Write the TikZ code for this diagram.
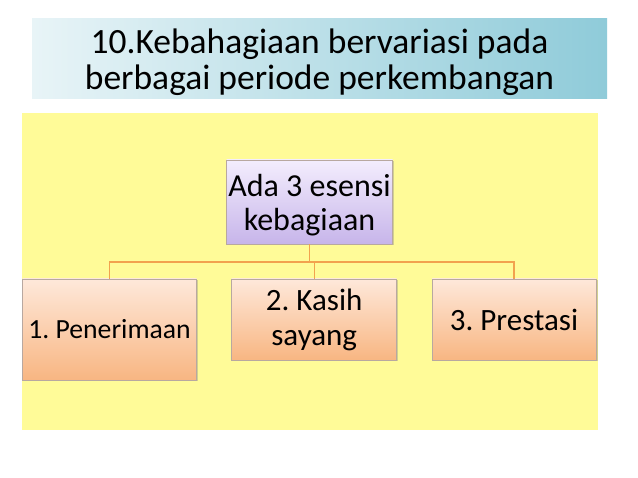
\documentclass[tikz,border=0pt]{standalone}
\usepackage{fontspec}
\setmainfont{Carlito}
\frenchspacing
\usetikzlibrary{shadows}
\definecolor{titleL}{HTML}{E8F4F7}
\definecolor{titleR}{HTML}{8FCBD9}
\definecolor{yel}{HTML}{FFFB98}
\definecolor{lavT}{HTML}{F3EDFD}
\definecolor{lavB}{HTML}{C7B5EA}
\definecolor{pchT}{HTML}{FEE8DA}
\definecolor{pchB}{HTML}{F8B682}
\definecolor{conn}{HTML}{F2A24E}
\definecolor{bord}{HTML}{B8A8A0}
\tikzset{
  topbox/.style={draw=bord, line width=0.6pt, top color=lavT, bottom color=lavB, align=center,
    font=\fontsize{32}{34}\selectfont, inner sep=0pt,
    drop shadow={shadow xshift=1.5pt, shadow yshift=-1.5pt, opacity=0.35}},
  leafbox/.style={draw=bord, line width=0.6pt, top color=pchT, bottom color=pchB, align=center,
    font=\fontsize{31}{35}\selectfont, inner sep=0pt,
    drop shadow={shadow xshift=1.5pt, shadow yshift=-1.5pt, opacity=0.35}},
  link/.style={draw=conn, line width=1.3pt}
}
\begin{document}
\begin{tikzpicture}[x=1pt,y=-1pt]
\useasboundingbox (0,0) rectangle (638,478);
\fill[white] (0,0) rectangle (638,478);
% title
\shade[left color=titleL, right color=titleR] (32,19) rectangle (607,99);
\node[align=center, font=\fontsize{35.5}{36}\selectfont] (title) at (319.5,62) {10.Kebahagiaan bervariasi pada\\berbagai periode perkembangan};
% yellow panel
\fill[yel] (22,113) rectangle (598,430);
% nodes
\node[topbox, minimum width=166pt, minimum height=84pt] (top) at (309.5,202) {};
\node[align=center, font=\fontsize{32}{34}\selectfont, inner sep=0pt] (toptext) at (309.5,205) {Ada 3 esensi\\kebagiaan};
\node[leafbox, minimum width=174pt, minimum height=101pt, font=\fontsize{27.7}{30}\selectfont] (a) at (109.5,329.5) {1. Penerimaan};
\node[leafbox, minimum width=165pt, minimum height=81pt] (b) at (314.2,319.5) {2. Kasih\\sayang};
\node[leafbox, minimum width=164pt, minimum height=81pt] (c) at (514,319.5) {3. Prestasi};
\coordinate (hub) at (309.5,262);
\path[link] (top.south) -- (hub);
\path[link] (a.north) |- (hub) -| (c.north);
\path[link] (hub) -| (b.north);
\end{tikzpicture}
\end{document}
